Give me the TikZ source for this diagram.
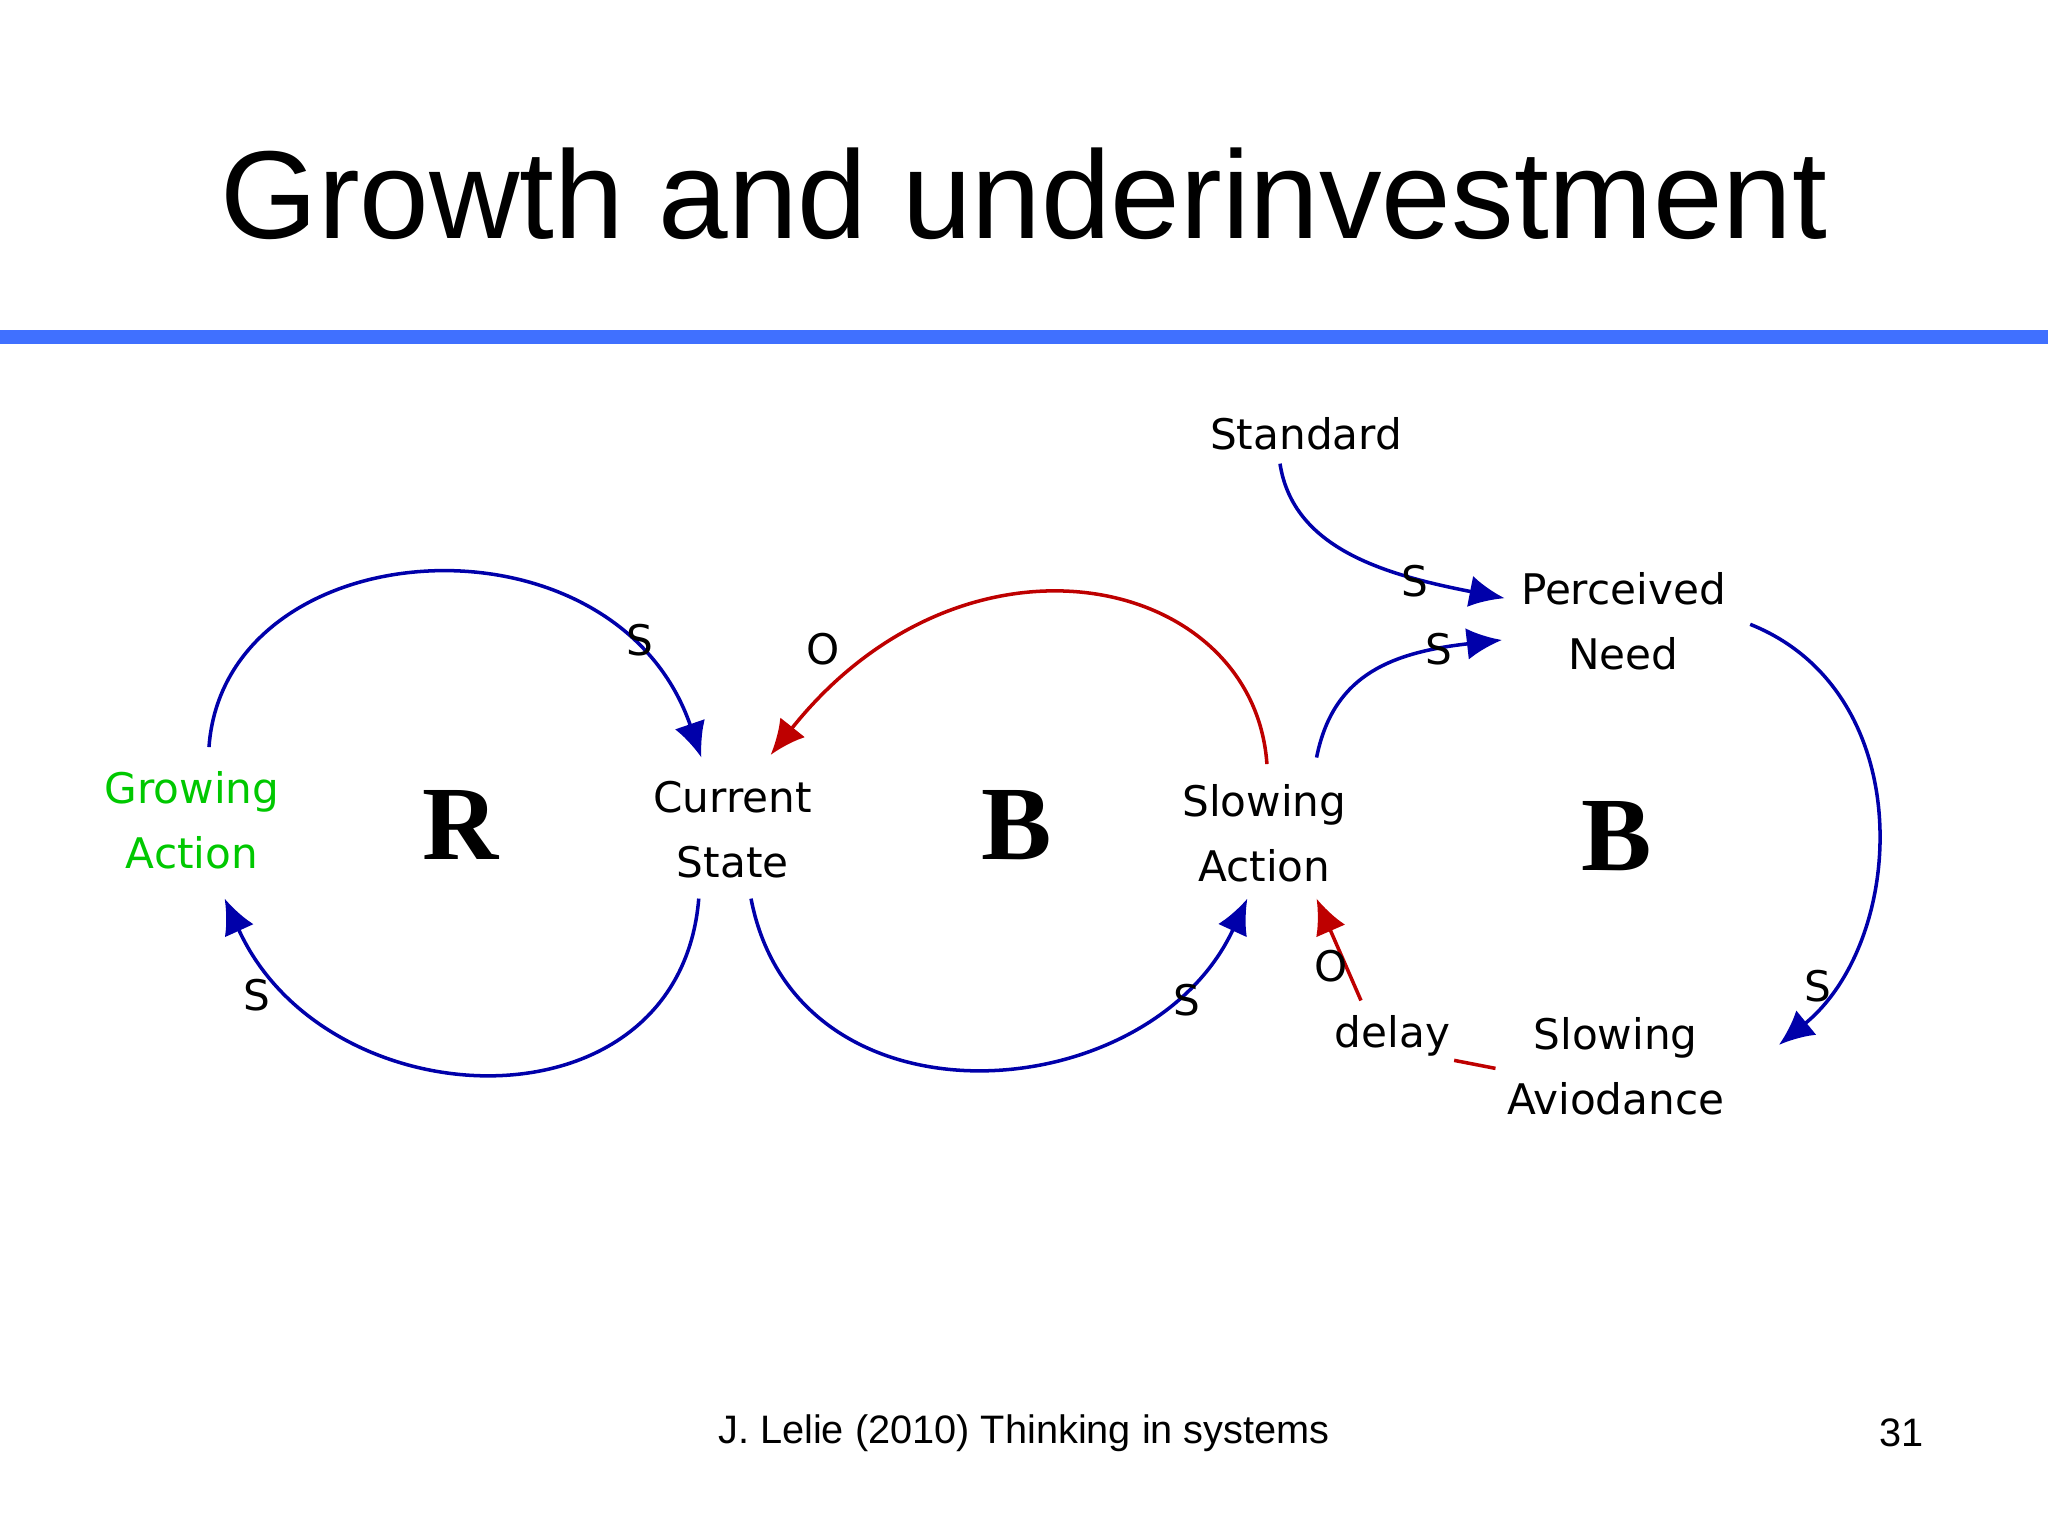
\documentclass[tikz,border=0pt]{standalone}
\usepackage{fontspec}
\setmainfont{Liberation Sans}
\newfontfamily\labelfont{DejaVu Sans}
\newfontfamily\loopfont{Liberation Serif}
\usetikzlibrary{arrows.meta,positioning}
\definecolor{cldblue}{RGB}{0,0,170}
\definecolor{cldred}{RGB}{190,0,0}
\definecolor{cldgreen}{RGB}{0,200,0}
\definecolor{rulerblue}{RGB}{64,112,255}

\begin{document}
\begin{tikzpicture}[x=0.01306cm,y=-0.01306cm,
    var/.style={align=center,font=\labelfont\fontsize{12}{18.5}\selectfont,inner sep=1pt},
    sign/.style={font=\labelfont\fontsize{12}{14}\selectfont,inner sep=1pt},
    loop/.style={font=\loopfont\bfseries\fontsize{30}{30}\selectfont},
    link/.style={line width=1pt,cldblue,-{Latex[length=10pt,width=9pt]}},
    neglink/.style={link,cldred}]
    \useasboundingbox (0,0) rectangle (1568,1176);
    % Title and ruler
    \node (title) at (784,148) {\fontsize{35.6}{38}\selectfont Growth and underinvestment};
    \fill[rulerblue] (0,253) rectangle (1568,263);

    % Variables
    \node[var] (std) at (1000,332) {Standard};
    \node[var] (pn) at (1243,476) {Perceived\\Need};
    \node[var,text=cldgreen] (ga) at (147,628) {Growing\\Action};
    \node[var] (cs) at (561,635) {Current\\State};
    \node[var] (sa) at (968,638) {Slowing\\Action};
    \node[var] (delay) at (1066,793) {delay};
    \node[var] (sav) at (1237,816) {Slowing\\Aviodance};

    % Loop markers
    \node[loop] (r1) at (353,632) {R};
    \node[loop] (b1) at (778,632) {B};
    \node[loop] (b2) at (1238,640) {B};

    % Link ends
    \coordinate (ga-top) at (160,572);
    \coordinate (ga-in) at (172,688);
    \coordinate (cs-in) at (537,580);
    \coordinate (cs-in2) at (590,578);
    \coordinate (cs-out) at (535,688);
    \coordinate (cs-out2) at (575,688);
    \coordinate (sa-top) at (970,585);
    \coordinate (sa-top2) at (1008,580);
    \coordinate (sa-in) at (955,688);
    \coordinate (sa-in2) at (1008,688);
    \coordinate (pn-in) at (1152,458);
    \coordinate (pn-in2) at (1150,490);
    \coordinate (pn-out) at (1340,478);
    \coordinate (sav-in) at (1362,800);
    \coordinate (std-out) at (980,355);
    \coordinate (sav-w) at (1145,818);
    \coordinate (delay-out) at (1042,766);

    % Links
    \draw[link] (ga-top) .. controls (172,405) and (470,385) .. (cs-in);
    \draw[link] (cs-out) .. controls (520,870) and (250,860) .. (ga-in);
    \draw[neglink] (sa-top) .. controls (960,440) and (740,390) .. (cs-in2);
    \draw[link] (cs-out2) .. controls (610,870) and (880,850) .. (sa-in);
    \draw[link] (sa-top2) .. controls (1020,520) and (1060,500) .. (pn-in2);
    \draw[link] (std-out) .. controls (990,420) and (1060,440) .. (pn-in);
    \draw[link] (pn-out) .. controls (1470,530) and (1460,720) .. (sav-in);
    \draw[line width=1pt,cldred] (sav-w) -- (delay.south east);
    \draw[neglink] (delay-out) -- (sa-in2);

    % Polarities
    \node[sign] (s1) at (490,490) {S};
    \node[sign] (s2) at (197,762) {S};
    \node[sign,text=black] (o1) at (630,497) {O};
    \node[sign] (s3) at (909,766) {S};
    \node[sign] (s4) at (1102,497) {S};
    \node[sign] (s5) at (1083,445) {S};
    \node[sign] (s6) at (1392,755) {S};
    \node[sign] (o2) at (1019,740) {O};

    % Footer
    \node (foot) at (784,1097) {\fontsize{11.3}{13}\selectfont J. Lelie (2010) Thinking in systems};
    \node (page) at (1456,1097) {\fontsize{11.3}{13}\selectfont 31};
\end{tikzpicture}
\end{document}
